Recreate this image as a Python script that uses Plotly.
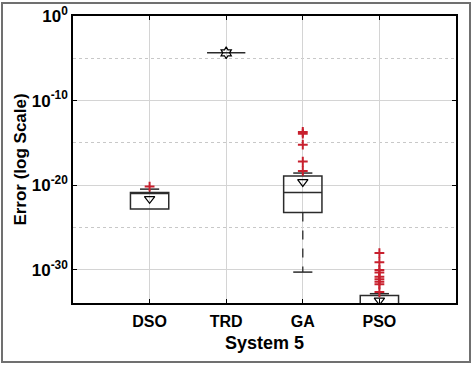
import plotly.graph_objects as go

# ---- data (exponents of 10) ----
categories = ["DSO", "TRD", "GA", "PSO"]
positions = [1, 2, 3, 4]
q1_exp = [-22.8, -4.35, -23.2, -35.0]
median_exp = [-20.85, -4.35, -20.85, -34.6]
q3_exp = [-20.85, -4.35, -18.9, -33.0]
lower_whisker_exp = [-22.8, -4.35, -30.25, -35.0]
upper_whisker_exp = [-20.45, -4.35, -18.55, -32.8]
mean_exp = [-21.6, -4.35, -19.6, -33.6]
outliers_dso = [-20.15]
outliers_ga = [-13.7, -13.9, -15.2, -17.2, -18.3]
outliers_pso = [-28.0, -29.1, -30.0, -30.3, -30.8, -31.1, -31.4, -31.7, -32.6]
ytick_exp = [0, -10, -20, -30]
minor_exp = [-5, -15, -25]

FONT = "Liberation Sans, Arial, sans-serif"
BOXW = 0.5
CAPW = 0.25
LINEC = "#2b2b2b"
RED = "#c8202e"

def p(e):
    return 10.0 ** e

fig = go.Figure()

fig.add_trace(go.Box(
    x=positions,
    q1=[p(v) for v in q1_exp],
    median=[p(v) for v in median_exp],
    q3=[p(v) for v in q3_exp],
    lowerfence=[p(v) for v in q1_exp],
    upperfence=[p(v) for v in q3_exp],
    width=BOXW, whiskerwidth=0,
    fillcolor="rgba(0,0,0,0)",
    line=dict(color=LINEC, width=1.5),
    boxpoints=False, hoverinfo="skip", showlegend=False,
))

# whiskers (dashed) and caps
wx, wy, cx, cy = [], [], [], []
for x, a, b, c, d in zip(positions, q1_exp, lower_whisker_exp, q3_exp, upper_whisker_exp):
    for start, end in ((a, b), (c, d)):
        if abs(start - end) > 1e-9:
            wx += [x, x, None]
            wy += [p(start), p(end), None]
            cx += [x - CAPW / 2, x + CAPW / 2, None]
            cy += [p(end), p(end), None]
fig.add_trace(go.Scatter(x=wx, y=wy, mode="lines",
                         line=dict(color=LINEC, width=1.3, dash="dash"),
                         showlegend=False, hoverinfo="skip"))
fig.add_trace(go.Scatter(x=cx, y=cy, mode="lines",
                         line=dict(color=LINEC, width=1.5),
                         showlegend=False, hoverinfo="skip"))

# outliers
ox, oy = [], []
for x, arr in zip([1, 3, 4], [outliers_dso, outliers_ga, outliers_pso]):
    ox += [x] * len(arr)
    oy += [p(v) for v in arr]
fig.add_trace(go.Scatter(x=ox, y=oy, mode="markers",
                         marker=dict(symbol="cross-thin", size=7, line=dict(color=RED, width=2)),
                         showlegend=False))

# means
fig.add_trace(go.Scatter(
    x=positions, y=[p(v) for v in mean_exp], mode="markers",
    marker=dict(symbol=["triangle-down-open", "hexagram-open", "triangle-down-open", "triangle-down-open"],
                size=9, color="black", line=dict(color="black", width=1.2)),
    showlegend=False))

fig.update_layout(
    width=474, height=366,
    margin=dict(l=73, r=18, t=16, b=63, autoexpand=False),
    paper_bgcolor="white", plot_bgcolor="white",
    font=dict(family=FONT, size=16, color="black", weight="bold"),
    xaxis=dict(range=[0, 5], tickvals=positions, ticktext=categories,
               automargin=False,
               showgrid=True, gridcolor="#d4d4d4", gridwidth=1,
               ticks="inside", ticklen=4, tickcolor="black",
               showline=True, linecolor="black", linewidth=1.5, mirror="ticks",
               zeroline=False, ticklabelstandoff=3,
               tickfont=dict(family=FONT, size=16, weight="bold"),
               title=dict(text="System 5", font=dict(family=FONT, size=18, weight="bold"), standoff=7)),
    yaxis=dict(type="log", range=[-33.9, 0],
               automargin=False,
               tickvals=[p(v) for v in ytick_exp],
               ticktext=["10<sup>%d</sup>" % v for v in ytick_exp],
               showgrid=True, gridcolor="#d4d4d4", gridwidth=1,
               minor=dict(tickvals=[p(v) for v in minor_exp], showgrid=True,
                          gridcolor="#c8c8c8", griddash="dot", ticks=""),
               ticks="inside", ticklen=4, tickcolor="black",
               showline=True, linecolor="black", linewidth=1.5, mirror="ticks",
               zeroline=False,
               tickfont=dict(family=FONT, size=17, weight="bold"),
               title=dict(text="Error (log Scale)", font=dict(family=FONT, size=17, weight="bold"), standoff=1)),
    shapes=[dict(type="rect", xref="paper", yref="paper",
                 x0=(2 - 73) / 383, x1=(470 - 73) / 383,
                 y0=(303 - 362) / 287, y1=(303 - 3) / 287,
                 line=dict(color="#707070", width=2), fillcolor="rgba(0,0,0,0)", layer="below")],
)

fig.write_html("out.html", config={"displayModeBar": False},
               post_script="document.body.style.margin='0';document.body.style.overflow='hidden';")
